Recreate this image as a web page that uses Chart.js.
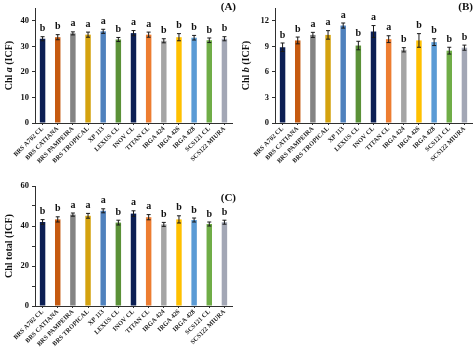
<!DOCTYPE html>
<html>
<head>
<meta charset="utf-8">
<script src="https://cdn.jsdelivr.net/npm/chart.js@4/dist/chart.umd.min.js"></script>
<style>
  html, body { margin: 0; padding: 0; background: #fff; }
  body { width: 474px; height: 352px; position: relative; overflow: hidden; }
  .panel { position: absolute; width: 237px; height: 176px; }
</style>
</head>
<body>
<div class="panel" style="left:0;top:0"><canvas id="graficoA"></canvas></div>
<div class="panel" style="left:237px;top:0"><canvas id="graficoB"></canvas></div>
<div class="panel" style="left:0;top:176px"><canvas id="graficoC"></canvas></div>

<script>
// === DATI ===
const cultivars = ['BRS A702 CL', 'BRS CATIANA', 'BRS PAMPEIRA', 'BRS TROPICAL', 'XP 113', 'LEXUS CL',
  'INOV CL', 'TITAN CL', 'IRGA 424', 'IRGA 426', 'IRGA 428', 'SCS121 CL', 'SCS122 MIURA'];

const chlA = [33.0, 33.6, 35.1, 34.6, 35.9, 32.7, 35.2, 34.6, 32.2, 33.6, 33.4, 32.4, 33.0];
const chlAErr = [0.8, 1.0, 0.6, 1.0, 0.8, 0.8, 1.0, 1.0, 0.8, 1.4, 0.9, 0.9, 0.8];
const chlALetters = ['b', 'b', 'a', 'a', 'a', 'b', 'a', 'a', 'b', 'b', 'b', 'b', 'b'];

const chlB = [8.9, 9.7, 10.35, 10.35, 11.45, 9.1, 10.75, 9.85, 8.6, 9.7, 9.5, 8.5, 8.85];
const chlBErr = [0.5, 0.4, 0.3, 0.5, 0.3, 0.5, 0.7, 0.4, 0.25, 0.8, 0.4, 0.4, 0.3];
const chlBLetters = ['b', 'b', 'a', 'a', 'a', 'b', 'a', 'a', 'b', 'b', 'b', 'b', 'b'];

const chlTot = [42.0, 43.3, 45.7, 45.1, 47.6, 41.7, 46.2, 44.4, 40.8, 43.3, 43.0, 41.0, 41.9];
const chlTotErr = [1.2, 1.3, 0.8, 1.2, 1.0, 1.2, 1.4, 1.3, 1.0, 1.8, 1.0, 1.0, 1.0];
const chlTotLetters = ['b', 'b', 'a', 'a', 'a', 'b', 'a', 'a', 'b', 'b', 'b', 'b', 'b'];

const barColors = ['#0c1f54', '#c55a11', '#848484', '#d4a20f', '#4f81bd', '#5b9138', '#0c1f54',
  '#ed7d31', '#a5a5a5', '#ffc000', '#5b9bd5', '#70ad47', '#a3a7b5'];

const serif = "'Liberation Serif', 'Times New Roman', serif";
const inkColor = '#303030';

// === PLUGIN: barre di errore + lettere ===
const errorBarsPlugin = {
  id: 'errorBars',
  afterDatasetsDraw(chart, args, opts) {
    const { ctx } = chart;
    const yScale = chart.scales.y;
    const meta = chart.getDatasetMeta(0);
    const values = chart.data.datasets[0].data;
    ctx.save();
    ctx.strokeStyle = '#1a1a1a';
    ctx.lineWidth = 1;
    meta.data.forEach((bar, i) => {
      const x = bar.x;
      const yTop = yScale.getPixelForValue(values[i] + opts.errors[i]);
      const yBot = yScale.getPixelForValue(values[i] - opts.errors[i]);
      ctx.beginPath();
      ctx.moveTo(x, yTop); ctx.lineTo(x, yBot);
      ctx.moveTo(x - 2, yTop); ctx.lineTo(x + 2, yTop);
      ctx.moveTo(x - 2, yBot); ctx.lineTo(x + 2, yBot);
      ctx.stroke();
      ctx.fillStyle = '#111';
      ctx.font = 'bold 10px ' + serif;
      ctx.textAlign = 'center';
      ctx.textBaseline = 'bottom';
      ctx.fillText(opts.letters[i], x, yTop - 3);
    });
    ctx.restore();
  }
};

// === PLUGIN: titolo asse Y (con corsivo) + etichetta pannello ===
const panelTextPlugin = {
  id: 'panelText',
  afterDraw(chart, args, opts) {
    const { ctx, chartArea } = chart;
    ctx.save();
    ctx.fillStyle = '#111';
    ctx.textBaseline = 'middle';
    // titolo asse Y ruotato
    const parts = opts.titleParts;
    const widths = parts.map(p => {
      ctx.font = p.font;
      return ctx.measureText(p.text).width;
    });
    const total = widths.reduce((a, b) => a + b, 0);
    ctx.translate(opts.titleX, (chartArea.top + chartArea.bottom) / 2);
    ctx.rotate(-Math.PI / 2);
    let cx = -total / 2;
    parts.forEach((p, i) => {
      ctx.font = p.font;
      ctx.textAlign = 'left';
      ctx.fillText(p.text, cx, 0);
      cx += widths[i];
    });
    ctx.restore();

    ctx.save();
    ctx.fillStyle = '#111';
    ctx.font = 'bold 11px ' + serif;
    ctx.textAlign = 'right';
    ctx.textBaseline = 'top';
    ctx.fillText(opts.label, chart.width - 1, opts.labelY);
    ctx.restore();
  }
};

function titleParts(pre, it, post) {
  const parts = [{ text: pre, font: 'bold 10px ' + serif }];
  if (it) parts.push({ text: it, font: 'italic bold 10px ' + serif });
  parts.push({ text: post, font: 'bold 10px ' + serif });
  return parts;
}

function creaGrafico(id, values, errors, letters, yMax, step, labelStep, yWidth, xHeight, pad, title, label, labelY) {
  const ctx = document.getElementById(id).getContext('2d');
  return new Chart(ctx, {
    type: 'bar',
    data: {
      labels: cultivars,
      datasets: [{
        data: values,
        backgroundColor: barColors,
        barPercentage: 0.36,
        categoryPercentage: 1
      }]
    },
    options: {
      responsive: true,
      maintainAspectRatio: false,
      animation: false,
      layout: { padding: pad },
      plugins: {
        legend: { display: false },
        tooltip: { enabled: false },
        errorBars: { errors, letters },
        panelText: { titleParts: title, titleX: 9, label, labelY }
      },
      scales: {
        x: {
          afterFit(scale) { scale.height = xHeight; },
          border: { display: true, color: inkColor, width: 1 },
          grid: { display: true, drawOnChartArea: false, offset: false, tickLength: 2, color: inkColor },
          ticks: {
            autoSkip: false,
            minRotation: 45,
            maxRotation: 45,
            padding: 0,
            color: '#222',
            font: { family: serif, size: 6.5, weight: 'bold' }
          }
        },
        y: {
          min: 0,
          max: yMax,
          afterFit(scale) { scale.width = yWidth; },
          afterBuildTicks(scale) {
            scale.ticks = scale.ticks.filter(t => Math.abs(t.value / step - Math.round(t.value / step)) < 1e-6);
          },
          border: { display: true, color: inkColor, width: 1 },
          grid: { display: true, drawOnChartArea: false, tickLength: 3, color: inkColor },
          ticks: {
            stepSize: step,
            padding: 3,
            color: '#111',
            font: { family: serif, size: 8.5, weight: 'bold' },
            callback: v => (Math.abs(v / labelStep - Math.round(v / labelStep)) < 1e-6 ? v : '')
          }
        }
      }
    },
    plugins: [errorBarsPlugin, panelTextPlugin]
  });
}

// === GRAFICI ===
creaGrafico('graficoA', chlA, chlAErr, chlALetters, 45, 10, 10, 35, 53,
  { top: 3, right: 5, left: 0, bottom: 0 }, titleParts('Chl ', 'a', ' (ICF)'), '(A)', 2);

creaGrafico('graficoB', chlB, chlBErr, chlBLetters, 13.5, 3, 3, 38, 53,
  { top: 3, right: 2, left: 0, bottom: 0 }, titleParts('Chl ', 'b', ' (ICF)'), '(B)', 2);

creaGrafico('graficoC', chlTot, chlTotErr, chlTotLetters, 60, 10, 20, 35, 46,
  { top: 10, right: 5, left: 0, bottom: 0 }, titleParts('Chl total (ICF)', '', ''), '(C)', 17);
</script>
</body>
</html>
